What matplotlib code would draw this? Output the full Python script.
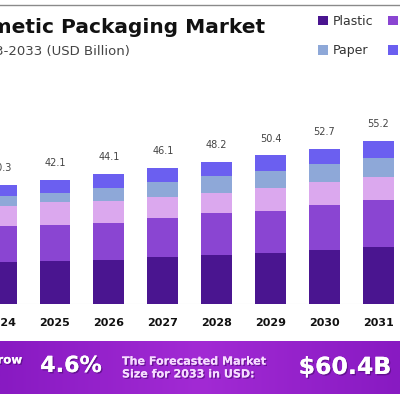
import numpy as np
import matplotlib
matplotlib.use("Agg")
import matplotlib.pyplot as plt
from matplotlib.patches import Patch
import matplotlib.patheffects as pe

years = [2023, 2024, 2025, 2026, 2027, 2028, 2029, 2030, 2031, 2032, 2033]
totals = [38.5, 40.3, 42.1, 44.1, 46.1, 48.2, 50.4, 52.7, 55.2, 57.7, 60.4]
plastic = [13.6, 14.3, 14.6, 14.8, 15.9, 16.6, 17.4, 18.2, 19.3, 20.2, 21.1]
glass   = [11.4, 12.0, 12.2, 12.8, 13.2, 14.2, 14.1, 15.2, 15.9, 16.6, 17.4]
metal   = [6.6, 6.9, 7.8, 7.4, 7.2, 6.9, 7.7, 7.8, 7.8, 8.2, 8.6]
paper   = [3.3, 3.4, 3.1, 4.4, 5.1, 5.8, 5.8, 6.1, 6.4, 6.7, 7.0]
others  = [3.6, 3.7, 4.4, 4.7, 4.7, 4.7, 5.4, 5.4, 5.8, 6.0, 6.3]

series = [("Plastic", plastic, "#4a1590"),
          ("Glass", glass, "#8a45d2"),
          ("Metal", metal, "#dba8ee"),
          ("Paper", paper, "#8ea8d8"),
          ("Others", others, "#6b5ff0")]

title = "Cosmetic Packaging Market"
subtitle = "Market Size, 2023-2033 (USD Billion)"
cagr_lead = "The Market will Grow"
cagr_value = "4.6%"
forecast_label = "The Forecasted Market\nSize for 2033 in USD:"
forecast_value = "$60.4B"

W, H = 400, 400
fig = plt.figure(figsize=(4, 4), dpi=100)
fig.patch.set_facecolor("white")

def fx(px):
    return px / W

def fy(py):
    return 1 - py / H

# axes placement (extends beyond figure, as in cropped reference)
pitch = 53.9
c2025 = 55.0
x0 = 2022.5
left_px = c2025 - (2025 - x0) * pitch
width_px = 11 * pitch
ymax = 70
ppu = 2.95
bottom_px = 304
ax = fig.add_axes([fx(left_px), 1 - bottom_px / H, width_px / W, ymax * ppu / H])
ax.set_xlim(x0, x0 + 11)
ax.set_ylim(0, ymax)
ax.axis("off")

bottoms = np.zeros(len(years))
for name, vals, col in series:
    ax.bar(years, vals, bottom=bottoms, width=0.575, color=col, edgecolor="none")
    bottoms += np.array(vals)

ax.axhline(0, color="#e6e6e6", lw=0.8, zorder=0)

for y, t in zip(years, totals):
    ax.annotate(f"{t:.1f}", (y, t), xytext=(0, 12), textcoords="offset points",
                ha="center", va="center", fontsize=7, color="#444444")
    ax.annotate(str(y), (y, 0), xytext=(0, -14), textcoords="offset points",
                ha="center", va="center", fontsize=8, fontweight="bold", color="#111111")

# top border line
fig.add_artist(plt.Line2D([0, 1], [fy(5), fy(5)], color="#8a8a8a", lw=1))

# title & subtitle
fig.text(fx(265), fy(33), title, ha="right", va="baseline", fontsize=14.5,
         fontweight="bold", color="#111111")
fig.text(fx(130), fy(52), subtitle, ha="right", va="center", fontsize=9.5,
         color="#444444")

# legend
handles = {name: Patch(facecolor=col, edgecolor="none") for name, _, col in series}
order = ["Plastic", "Paper", "Glass", "Others", "Metal"]
fig.legend([handles[n] for n in order], order, ncol=3, frameon=False,
           loc="upper left", bbox_to_anchor=(fx(318), fy(15)),
           fontsize=9, handlelength=0.8, handleheight=0.8, handletextpad=0.35,
           labelspacing=1.3, columnspacing=1.2, borderpad=0, borderaxespad=0,
           labelcolor="#333333")

# bottom banner with gradient
bax = fig.add_axes([0, fy(394), 1, (394 - 341) / H])
grad = np.linspace(0, 1, 256)
c1 = np.array([0x88, 0x1a, 0xc2]) / 255
c2 = np.array([0xa2, 0x2a, 0xd4]) / 255
prof = 1 - np.abs(grad - 0.5) * 2
img = c1[None, :] + (c2 - c1)[None, :] * prof[:, None]
bax.imshow(img[None, :, :], aspect="auto", extent=[0, 1, 0, 1])
bax.set_xlim(0, 1)
bax.set_ylim(0, 1)
bax.axis("off")

shadow = [pe.withSimplePatchShadow(offset=(1, -1), shadow_rgbFace="#4a0a70", alpha=0.6), pe.Normal()]
fig.text(fx(22), fy(360), cagr_lead, ha="right", va="center", fontsize=8.5,
         fontweight="bold", color="white", path_effects=shadow)
fig.text(fx(71), fy(366), cagr_value, ha="center", va="center", fontsize=16,
         fontweight="bold", color="white", path_effects=shadow)
fig.text(fx(122), fy(368), forecast_label, ha="left", va="center", fontsize=8,
         fontweight="bold", color="#f6dcff", linespacing=1.35, path_effects=shadow)
fig.text(fx(345), fy(367), forecast_value, ha="center", va="center", fontsize=17,
         fontweight="bold", color="white", path_effects=shadow)

fig.savefig("out.png", dpi=100, facecolor="white")
